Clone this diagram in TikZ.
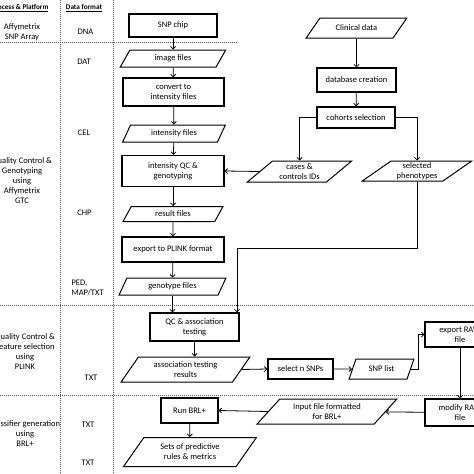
\documentclass[tikz,border=0pt]{standalone}
\usepackage{fontspec}
\setmainfont{Carlito}
\usetikzlibrary{arrows.meta, positioning, calc, shapes.geometric}

\tikzset{
  procbox/.style={draw, line width=1.2pt, rectangle, align=center, inner sep=1pt},
  iobox/.style={draw, line width=1pt, trapezium, trapezium left angle=#1,
    trapezium right angle={180-#1}, trapezium stretches=true, align=center, inner sep=1pt},
  iobox/.default=65,
  sepline/.style={dash pattern=on 1pt off 1pt, gray!70!black, line width=0.6pt},
  colhead/.style={font=\fontsize{7.2}{8}\selectfont\bfseries},
}

\begin{document}
\begin{tikzpicture}[x=1pt, y=-1pt, >={Straight Barb[length=2.5pt,width=5pt]},
    font=\fontsize{8.5}{10}\selectfont, flow/.style={->, line width=0.8pt}]
        \useasboundingbox (0,0) rectangle (474,474);
        \clip (0,0) rectangle (474,474);

        % column separators
        \draw[sepline] (60,0) -- (60,474);
        \draw[sepline] (113,0) -- (113,474);
        \draw[sepline] (0,42) -- (237,42);
        \draw[sepline] (0,305) -- (474,305);
        \draw[sepline] (0,395) -- (474,395);

        % headers and left columns
        \node (hproc) [colhead] at (20,8) {\underline{Process \& Platform}};
        \node (hdata) [colhead] at (84,8) {\underline{Data format}};
        \node (plat1) [align=center] at (22,32) {Affymetrix\\SNP Array};
        \node (plat2) [align=center] at (22,181) {Quality Control \&\\Genotyping\\using\\Affymetrix\\GTC};
        \node (plat3) [align=center] at (25,351.5) {Quality Control \&\\Feature selection\\using\\PLINK};
        \node (plat4) [align=center] at (25,433.5) {Classifier generation\\using\\BRL+};
        \node (fdna) at (85.5,32) {DNA};
        \node (fdat) at (84,62) {DAT};
        \node (fcel) at (84,133) {CEL};
        \node (fchp) at (84.5,213) {CHP};
        \node (fped) [align=left, anchor=west] at (68,288) {PED,\\MAP/TXT};
        \node (ftxt1) at (91,378) {TXT};
        \node (ftxt2) at (88,425) {TXT};
        \node (ftxt3) at (88,463) {TXT};

        % genotype branch
        \node (chip) [procbox, minimum width=88pt, minimum height=23pt] at (173,25.5) {SNP chip};
        \node (imgf) [iobox, minimum width=106pt, minimum height=17pt] at (173,58.5) {image files};
        \node (conv) [procbox, minimum width=101pt, minimum height=28pt] at (173.5,92) {convert to\\intensity files};
        \node (intf) [iobox, minimum width=103pt, minimum height=17pt] at (174,133.5) {intensity files};
        \node (iqc) [procbox, minimum width=102pt, minimum height=31pt] at (173,171) {intensity QC \&\\genotyping};
        \node (resf) [iobox, minimum width=100pt, minimum height=15pt] at (173,214) {result files};
        \node (expl) [procbox, minimum width=102pt, minimum height=25pt] at (173,249.5) {export to PLINK format};
        \node (genf) [iobox, minimum width=107pt, minimum height=17pt] at (172.5,286.5) {genotype files};
        \node (qca) [procbox, minimum width=89pt, minimum height=28pt] at (194.5,327) {QC \& association\\testing};
        \node (asr) [iobox=56, minimum width=129pt, minimum height=25pt] at (185.5,369.5) {association testing\\results};
        \node (brl) [procbox, minimum width=57pt, minimum height=25pt] at (189.5,410.5) {Run BRL+};
        \node (sets) [iobox=53, minimum width=134pt, minimum height=29pt] at (190,452) {Sets of predictive\\rules \& metrics};

        % clinical branch
        \node (clin) [iobox=44, minimum width=101pt, minimum height=20pt] at (356.5,28) {Clinical data};
        \node (dbc) [procbox, minimum width=79pt, minimum height=24pt] at (356.5,80) {database creation};
        \node (coh) [procbox, minimum width=78pt, minimum height=21pt] at (356,117.5) {cohorts selection};
        \node (cases) [iobox=42, minimum width=105pt, minimum height=21pt] at (299.5,171.5) {cases \&\\controls IDs};
        \node (phen) [iobox=39, minimum width=110pt, minimum height=20pt] at (417,171) {selected\\phenotypes};
        \node (seln) [procbox, minimum width=65pt, minimum height=20pt] at (300.5,369) {select n SNPs};
        \node (snpl) [iobox, minimum width=65pt, minimum height=20pt] at (381.5,369) {SNP list};
        \node (exraw) [procbox, minimum width=70pt, minimum height=25pt] at (460,334.5) {export RAW\\file};
        \node (modraw) [procbox, minimum width=70pt, minimum height=27pt] at (460,412.5) {modify RAW\\file};
        \node (inpf) [iobox=47, minimum width=140pt, minimum height=25pt] at (327,411.5) {Input file formatted\\for BRL+};
        \coordinate (phturn) at (237,248);

        \draw[flow] (chip) -- (imgf);
        \draw[flow] (imgf) -- (conv);
        \draw[flow] (conv) -- (intf);
        \draw[flow] (intf) -- (iqc);
        \draw[flow] (iqc) -- (resf);
        \draw[flow] (resf) -- (expl);
        \draw[flow] (expl) -- (genf);
        \draw[flow] (genf.south) -- (genf.south |- qca.north);
        \draw[flow] (qca.south) -- (qca.south |- asr.north);
        \draw[flow] (clin) -- (dbc);
        \draw[flow] (dbc) -- (coh);
        \draw[flow] (coh.west) -| (cases.north);
        \draw[flow] (coh.east) -| (phen.north);
        \draw[flow] (cases.west) -- (iqc.east);
        \draw[flow] (phen.south) |- (phturn) -- (phturn |- qca.north);
        \draw[flow] (asr.east) -- (seln.west);
        \draw[flow] (seln.east) -- (snpl.west);
        \draw[flow] (snpl.east) -- ++(7,0) |- (exraw.west);
        \draw[flow] (exraw) -- (modraw);
        \draw[flow] (modraw) -- (inpf);
        \draw[flow] (inpf.west) -- (brl.east);
        \draw[flow] (brl) -- (sets);
\end{tikzpicture}
\end{document}
